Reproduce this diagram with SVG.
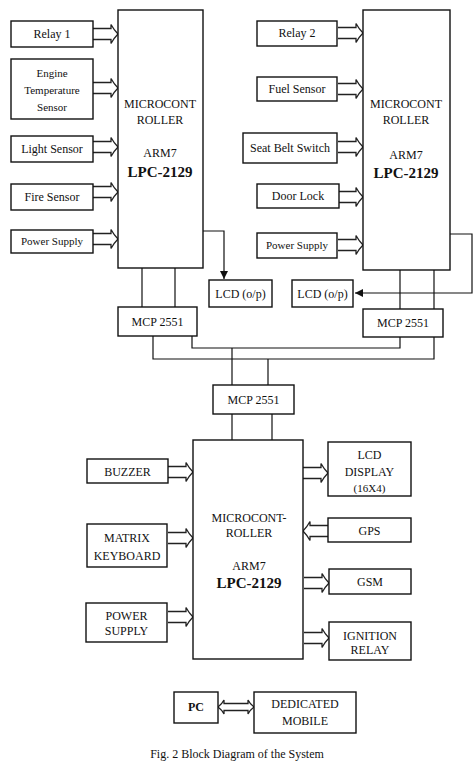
<svg xmlns="http://www.w3.org/2000/svg" xmlns:xlink="http://www.w3.org/1999/xlink" width="474" height="763" viewBox="0 0 474 763">
<style>
.box{fill:#fff;stroke:#111;stroke-width:1.4}
.ln{fill:none;stroke:#111;stroke-width:1.2}
.t{font-family:"Liberation Serif","Times New Roman",serif;font-size:12px;fill:#111;text-anchor:middle}
.s{font-size:11px}
.b{font-weight:bold;font-size:15px}
.arr{fill:#fff;stroke:#222;stroke-width:1.3;stroke-linejoin:miter}
</style>
<defs>
<path id="ba" class="arr" d="M0,-5.5 H18 V-9.5 Q21,-4 25,0 Q21,4 18,9.5 V5.5 H0"/>
<path id="da" class="arr" d="M6,-3.5 H30 V-7 Q32,-3 36,0 Q32,3 30,7 V3.5 H6 V7 Q4,3 0,0 Q4,-3 6,-7 Z"/>
<marker id="tri" viewBox="0 0 10 10" refX="10" refY="5" markerWidth="8" markerHeight="8" markerUnits="userSpaceOnUse" orient="auto">
<path d="M0,0 L10,5 L0,10 Z" fill="#111"/>
</marker>
</defs>

<g id="connectors">
<path class="ln" d="M203,231 H224 V279" marker-end="url(#tri)"/>
<path class="ln" d="M450,234 H472 V293 H355" marker-end="url(#tri)"/>
<path class="ln" d="M142,268 V307 M175,268 V307"/>
<path class="ln" d="M400,270 V309 M434,270 V309"/>
<path class="ln" d="M192,336 V348 H400 V337"/>
<path class="ln" d="M153,336 V359 H434 V337"/>
<path class="ln" d="M232,348 V385 M268,359 V385"/>
<path class="ln" d="M232,414 V440 M272,414 V440"/>
<use xlink:href="#ba" transform="translate(93,34)"/>
<use xlink:href="#ba" transform="translate(93,88)"/>
<use xlink:href="#ba" transform="translate(93,147)"/>
<use xlink:href="#ba" transform="translate(93,192)"/>
<use xlink:href="#ba" transform="translate(93,239)"/>
<use xlink:href="#ba" transform="translate(338,33)"/>
<use xlink:href="#ba" transform="translate(338,89)"/>
<use xlink:href="#ba" transform="translate(338,147)"/>
<use xlink:href="#ba" transform="translate(338,197)"/>
<use xlink:href="#ba" transform="translate(338,245)"/>
<use xlink:href="#ba" transform="translate(168,472)"/>
<use xlink:href="#ba" transform="translate(168,538)"/>
<use xlink:href="#ba" transform="translate(168,617)"/>
<use xlink:href="#ba" transform="translate(303,473)"/>
<use xlink:href="#ba" transform="translate(328,531) scale(-1,1)"/>
<use xlink:href="#ba" transform="translate(304,583)"/>
<use xlink:href="#ba" transform="translate(304,638)"/>
<use xlink:href="#da" transform="translate(218,707)"/>
</g>

<g id="mcu1"><rect class="box" x="118" y="10" width="85" height="258"/>
<text class="t" x="160" y="108">MICROCONT</text><text class="t" x="160" y="124">ROLLER</text>
<text class="t" x="160" y="157">ARM7</text><text class="t b" x="160" y="177">LPC-2129</text></g>
<g id="relay1"><rect class="box" x="11" y="21" width="82" height="26"/><text class="t" x="52" y="38">Relay 1</text></g>
<g id="engine"><rect class="box" x="11" y="59" width="82" height="60"/>
<text class="t s" x="52" y="77">Engine</text><text class="t s" x="52" y="94">Temperature</text><text class="t s" x="52" y="111">Sensor</text></g>
<g id="light"><rect class="box" x="11" y="136" width="82" height="26"/><text class="t" x="52" y="153">Light Sensor</text></g>
<g id="fire"><rect class="box" x="11" y="184" width="82" height="26"/><text class="t" x="52" y="201">Fire Sensor</text></g>
<g id="power1"><rect class="box" x="11" y="230" width="82" height="23"/><text class="t s" x="52" y="245">Power Supply</text></g>

<g id="mcu2"><rect class="box" x="363" y="10" width="87" height="260"/>
<text class="t" x="406" y="108">MICROCONT</text><text class="t" x="406" y="124">ROLLER</text>
<text class="t" x="406" y="159">ARM7</text><text class="t b" x="406" y="178">LPC-2129</text></g>
<g id="relay2"><rect class="box" x="257" y="21" width="80" height="25"/><text class="t" x="297" y="37">Relay 2</text></g>
<g id="fuel"><rect class="box" x="257" y="77" width="80" height="24"/><text class="t" x="297" y="93">Fuel Sensor</text></g>
<g id="seatbelt"><rect class="box" x="243" y="133" width="94" height="30"/><text class="t" x="290" y="152">Seat Belt Switch</text></g>
<g id="door"><rect class="box" x="257" y="184" width="82" height="24"/><text class="t" x="298" y="200">Door Lock</text></g>
<g id="power2"><rect class="box" x="257" y="233" width="80" height="25"/><text class="t s" x="297" y="249">Power Supply</text></g>

<g id="lcd1"><rect class="box" x="209" y="280" width="63" height="27"/><text class="t" x="240.5" y="298">LCD (o/p)</text></g>
<g id="lcd2"><rect class="box" x="292" y="280" width="61" height="27"/><text class="t" x="322.5" y="298">LCD (o/p)</text></g>
<g id="mcp1"><rect class="box" x="118" y="307" width="79" height="29"/><text class="t" x="157.5" y="326">MCP 2551</text></g>
<g id="mcp2"><rect class="box" x="363" y="309" width="80" height="28"/><text class="t" x="403" y="327">MCP 2551</text></g>
<g id="mcp3"><rect class="box" x="213" y="385" width="81" height="29"/><text class="t" x="253.5" y="404">MCP 2551</text></g>

<g id="mcu3"><rect class="box" x="193" y="440" width="110" height="219"/>
<text class="t" x="249" y="522">MICROCONT-</text><text class="t" x="249" y="537">ROLLER</text>
<text class="t" x="249" y="570">ARM7</text><text class="t b" x="249" y="588">LPC-2129</text></g>
<g id="buzzer"><rect class="box" x="87" y="459" width="81" height="24"/><text class="t" x="127.5" y="476">BUZZER</text></g>
<g id="matrix"><rect class="box" x="87" y="524" width="80" height="43"/><text class="t" x="127" y="542">MATRIX</text><text class="t" x="127" y="560">KEYBOARD</text></g>
<g id="power3"><rect class="box" x="86" y="603" width="81" height="39"/><text class="t" x="126.5" y="620">POWER</text><text class="t" x="126.5" y="635">SUPPLY</text></g>
<g id="lcd3"><rect class="box" x="328" y="442" width="83" height="54"/>
<text class="t" x="369.5" y="459">LCD</text><text class="t" x="369.5" y="476">DISPLAY</text><text class="t s" x="369.5" y="492">(16X4)</text></g>
<g id="gps"><rect class="box" x="328" y="518" width="83" height="24"/><text class="t" x="369.5" y="535">GPS</text></g>
<g id="gsm"><rect class="box" x="329" y="569" width="82" height="25"/><text class="t" x="370" y="586">GSM</text></g>
<g id="ignition"><rect class="box" x="329" y="622" width="82" height="38"/><text class="t" x="370" y="640">IGNITION</text><text class="t" x="370" y="654">RELAY</text></g>

<g id="pc"><rect class="box" x="174" y="692" width="44" height="31"/><text class="t" x="196" y="711" font-weight="bold">PC</text></g>
<g id="mobile"><rect class="box" x="254" y="692" width="102" height="41"/><text class="t" x="305" y="708">DEDICATED</text><text class="t" x="305" y="725">MOBILE</text></g>

<text class="t" x="237" y="758" font-size="13">Fig. 2 Block Diagram of the System</text>
</svg>
